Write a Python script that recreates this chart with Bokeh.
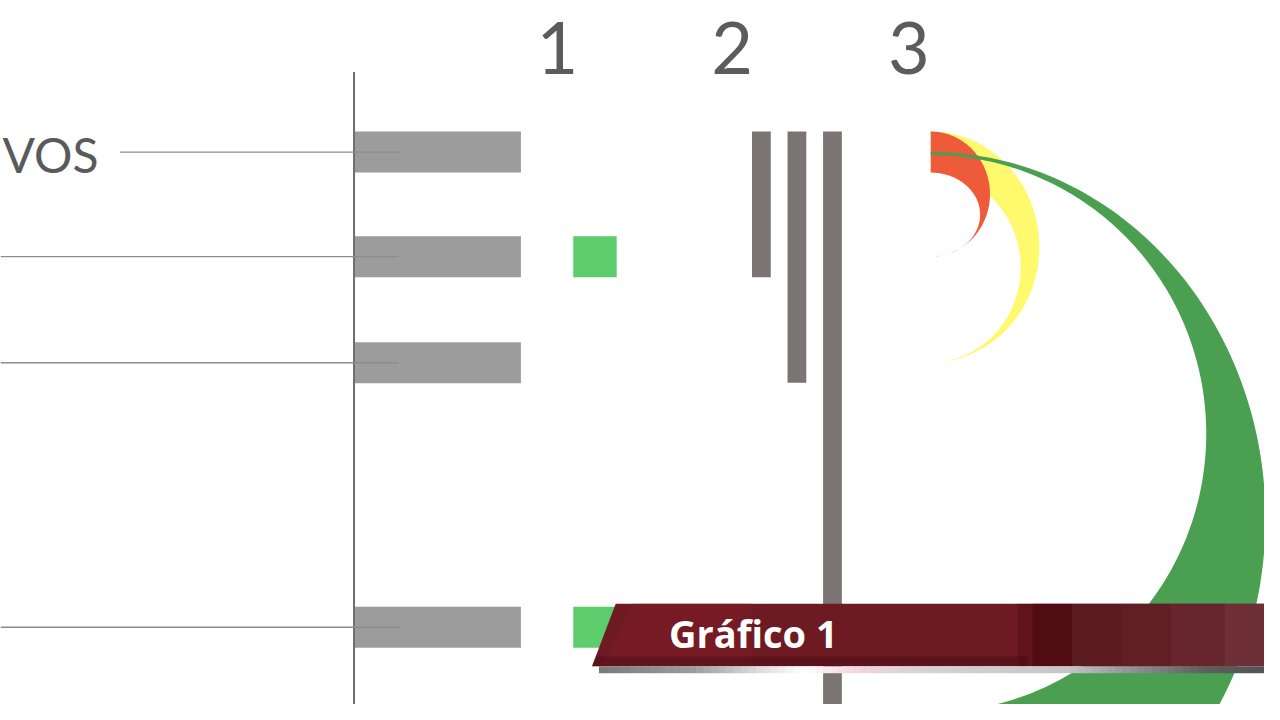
import numpy as np
from bokeh.plotting import figure
from bokeh.models import Range1d
from bokeh.core.properties import value
from bokeh.embed import file_html
from bokeh.resources import INLINE

# ---------------- data ----------------
column_labels = ["1", "2", "3"]
column_label_x = [564, 741, 920]

row_label = "VOS"                      # only the visible (cropped) row label
row_y = [155, 262, 370.5, 641]         # row centres
row_bar_length = [169, 169, 169, 169]  # grey bars from the axis
bar_base = 358
row_leader_start = [121, 0, 0, 0]
row_leader_end = [405, 403, 403, 405]

col1_mark_rows = [1, 3]                # green squares in column 1
col1_mark_x = 602

col2_bar_x = [770.5, 806.5, 842.5]     # vertical bars in column 2
col2_bar_top = 134
col2_bar_bottom = [283, 391, 760]

flow_x0 = 942                          # flows leaving column 3 (drawn back to front)
flow_colors = ["#FFF96E", "#EE5B3B", "#4AA050"]
flow_outer_start = [134, 134, 155]
flow_outer_end = [370, 262, 905]
flow_outer_reach = [110, 60, 339]
flow_inner_start = [176, 176, 158]
flow_inner_end = [370, 262, 728]
flow_inner_reach = [91, 50, 279]

banner_title = "Gráfico 1"

# ---------------- figure ----------------
p = figure(width=1264, height=704, x_range=Range1d(0, 1280), y_range=Range1d(720, 0),
           output_backend="svg", toolbar_location=None, min_border=0,
           x_axis_location=None, y_axis_location=None)
p.grid.visible = False
p.outline_line_color = None
p.background_fill_color = "white"
p.border_fill_color = "white"

# column headers
p.text(x=column_label_x, y=[49, 49, 49], text=column_labels,
       text_font=value("Lato"), text_font_size="72px", text_color="#5c5c5c",
       text_align="center", text_baseline="middle")

# row label
p.text(x=[2], y=[157], text=[row_label], text_font=value("Lato"),
       text_font_size="48px", text_color="#5a5a5a", text_align="left",
       text_baseline="middle")

# grey bars
p.hbar(y=row_y, left=bar_base, right=[bar_base + v for v in row_bar_length],
       height=42, fill_color="#9c9c9c", line_color=None)

# axis line
p.segment(x0=[bar_base], y0=[73], x1=[bar_base], y1=[720], line_color="#6e6e6e", line_width=2)

# leader lines
p.segment(x0=row_leader_start, y0=row_y, x1=row_leader_end, y1=row_y,
          line_color="#8c8c8c", line_width=1.3)

# column 1 marks
p.rect(x=[col1_mark_x] * len(col1_mark_rows), y=[row_y[i] for i in col1_mark_rows],
       width=44, height=42, fill_color="#5CCC6C", line_color=None)

# column 2 bars
p.vbar(x=col2_bar_x, width=19, top=[col2_bar_top] * 3, bottom=col2_bar_bottom,
       fill_color="#7a7472", line_color=None)


# column 3 flows: band between two half-ellipses opening to the right
def half_ellipse(y0, y1, reach, n=160):
    th = np.linspace(-np.pi / 2, np.pi / 2, n)
    cy, b = (y0 + y1) / 2, (y1 - y0) / 2
    return flow_x0 + reach * np.cos(th), cy + b * np.sin(th)


xs, ys = [], []
for i in range(len(flow_colors)):
    ox, oy = half_ellipse(flow_outer_start[i], flow_outer_end[i], flow_outer_reach[i])
    ix, iy = half_ellipse(flow_inner_start[i], flow_inner_end[i], flow_inner_reach[i])
    xs.append(list(np.concatenate([ox, ix[::-1]])))
    ys.append(list(np.concatenate([oy, iy[::-1]])))
p.patches(xs=xs, ys=ys, fill_color=flow_colors, line_color=None)

# ---------------- title banner ----------------
p.patch(x=[623, 1280, 1280, 599], y=[617, 617, 681, 681], fill_color="#6E1A22", line_color=None)
p.patch(x=[640, 760, 760, 610], y=[617, 617, 681, 681], fill_color="#7d1c25",
        fill_alpha=0.5, line_color=None)
strips_l = [1030, 1045, 1085, 1135, 1185, 1240]
strips_r = [1045, 1085, 1135, 1185, 1240, 1280]
strips_c = ["#4a0b10", "#4c0b11", "#581a22", "#5e1f27", "#66292f", "#703439"]
strips_a = [0.4, 0.85, 0.8, 0.8, 0.85, 0.85]
p.quad(left=strips_l, right=strips_r, top=[617] * 6, bottom=[681] * 6,
       fill_color=strips_c, fill_alpha=strips_a, line_color=None)
p.patch(x=[603, 1040, 1040, 599], y=[671, 671, 681, 681], fill_color="#3f080d",
        fill_alpha=0.35, line_color=None)

# metallic underline
stops_x = [606, 700, 770, 815, 840, 870, 950, 1080, 1150, 1220, 1280]
stops_c = ["#7a7a7a", "#9c9c9c", "#e4dcde", "#ffffff", "#fde8ec", "#f1d6db",
           "#d2d2d2", "#c6c6c6", "#8f8f8f", "#5e5e5e", "#545454"]
rgb = np.array([[int(c[k:k + 2], 16) for k in (1, 3, 5)] for c in stops_c])
edges = np.linspace(606, 1280, 90)
mids = (edges[:-1] + edges[1:]) / 2
cols = ["#%02x%02x%02x" % tuple(int(np.interp(m, stops_x, rgb[:, k])) for k in range(3)) for m in mids]
p.quad(left=edges[:-1], right=edges[1:] + 0.6, top=[681] * len(mids), bottom=[688] * len(mids),
       fill_color=cols, line_color=None)

p.text(x=[677], y=[647], text=[banner_title], text_font=value("Open Sans"),
       text_font_style="bold", text_font_size="38px", text_color="white",
       text_align="left", text_baseline="middle")

open("out.html", "w").write(file_html(p, INLINE))
